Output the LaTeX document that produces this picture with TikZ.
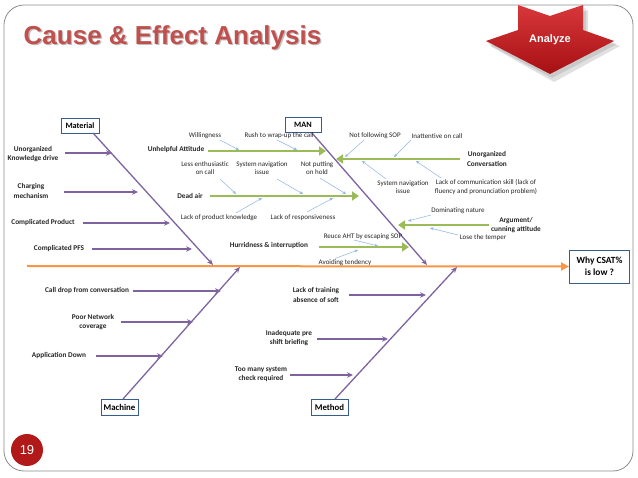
\documentclass[tikz,border=0pt]{standalone}
\usepackage{fontspec}
\setmainfont{Carlito}
\newfontfamily\arialf{Liberation Sans}
\usetikzlibrary{arrows.meta}
\definecolor{purp}{HTML}{7F63A1}
\definecolor{grn}{HTML}{9BBB59}
\definecolor{org}{HTML}{F79646}
\definecolor{lblue}{HTML}{8EB4E3}
\definecolor{boxb}{HTML}{385D8A}
\definecolor{ttl}{HTML}{C0504D}
\definecolor{darkred}{HTML}{B21A1A}
\definecolor{arrred}{HTML}{D01418}
\definecolor{framegray}{HTML}{8C8C8C}
\tikzset{
  lbl/.style={font=\fontsize{7}{8.6}\selectfont, align=center, inner sep=0pt, text=black!85},
  blbl/.style={font=\bfseries\fontsize{7.3}{9.3}\selectfont, align=center, inner sep=0pt, text=black!85},
  catbox/.style={draw=boxb, line width=0.9pt, fill=white, font=\bfseries\fontsize{8.2}{9}\selectfont, inner sep=1pt, minimum height=15pt},
  spine/.style={draw=purp, line width=1.3pt, -{Stealth[length=6pt,width=5pt]}},
  parr/.style={draw=purp, line width=1.5pt, -{Stealth[length=6pt,width=5.5pt]}},
  garr/.style={draw=grn, line width=2.6pt, -{Triangle[length=7pt,width=9pt]}},
  tarr/.style={draw=lblue, line width=0.5pt, -{Stealth[length=3.5pt,width=3pt]}},
}
\begin{document}
\begin{tikzpicture}[x=1pt,y=-1pt]
\useasboundingbox (0,0) rectangle (638,478);
\fill[white] (0,0) rectangle (638,478);
% frame
\draw[framegray, line width=0.8pt, rounded corners=20pt] (4,5) rectangle (633,471);

% title
\node[anchor=base west, inner sep=0pt, text=black!25, font=\arialf\bfseries\fontsize{26}{26}\selectfont] (ttlsh) at (24.8,45.8) {Cause \& Effect Analysis};
\node[anchor=base west, inner sep=0pt, text=ttl, font=\arialf\bfseries\fontsize{26}{26}\selectfont] (title) at (23.5,44.5) {Cause \& Effect Analysis};

% Analyze arrow
\fill[black, opacity=0.12] (522,10) -- (554,21) -- (588,10) -- (588,35) -- (620,46) -- (554,82) -- (490,46) -- (522,35) -- cycle;
\fill[black, opacity=0.10] (520,8) -- (552,19) -- (586,8) -- (586,33) -- (617,44) -- (552,78) -- (488,44) -- (520,33) -- cycle;
\shade[top color=arrred!85!white, bottom color=arrred!80!black] (518,5) -- (550,16) -- (583,5) -- (583,30) -- (614,41) -- (550,74) -- (486,41) -- (518,30) -- cycle;
\node[text=white, font=\arialf\bfseries\fontsize{11}{11}\selectfont, inner sep=0pt] (analyze) at (550,40) {Analyze};

% main spine
\node[catbox, minimum width=60pt, minimum height=33pt, align=center, font=\bfseries\fontsize{9.4}{12}\selectfont] (why) at (599.5,266.5) {Why CSAT\%\\is low ?};
\coordinate (spS) at (27,266);
\draw[draw=org, line width=2pt, -{Triangle[length=8pt,width=8pt]}] (spS) -- (why.west);

% category boxes
\node[catbox, minimum width=38pt] (mat) at (80,125.5) {Material};
\node[catbox, minimum width=36pt] (man) at (303,125) {MAN};
\node[catbox, minimum width=37pt, minimum height=16pt, font=\bfseries\fontsize{8.8}{9}\selectfont] (mach) at (119.5,407) {Machine};
\node[catbox, minimum width=37pt, minimum height=16pt, font=\bfseries\fontsize{8.8}{9}\selectfont] (meth) at (329.5,407) {Method};

% diagonal spines
\coordinate (matA) at (93,133);  \coordinate (matT) at (213,265);
\coordinate (manA) at (312,133); \coordinate (manT) at (427,265);
\coordinate (macA) at (123,399); \coordinate (macT) at (240,267);
\coordinate (metA) at (335,399); \coordinate (metT) at (457,267);
\draw[spine] (matA) -- (matT);
\draw[spine] (manA) -- (manT);
\draw[spine] (macA) -- (macT);
\draw[spine] (metA) -- (metT);

% ---- Material causes
\node[blbl] (m1) at (33,154) {Unorganized\\Knowledge drive};
\node[blbl] (m2) at (31,191) {Charging\\mechanism};
\node[blbl] (m3) at (43,223) {Complicated Product};
\node[blbl] (m4) at (59,249) {Complicated PFS};
\coordinate (m1a) at (65,153);  \coordinate (m1b) at (112,153);
\coordinate (m2a) at (64,192);  \coordinate (m2b) at (138,192);
\coordinate (m3a) at (83,223);  \coordinate (m3b) at (170,223);
\coordinate (m4a) at (92,249);  \coordinate (m4b) at (192,249);
\draw[parr] (m1a) -- (m1b);
\draw[parr] (m2a) -- (m2b);
\draw[parr] (m3a) -- (m3b);
\draw[parr] (m4a) -- (m4b);

% ---- MAN causes (left side)
\node[blbl] (ua) at (176,150) {Unhelpful Attitude};
\coordinate (uaa) at (208,151); \coordinate (uab) at (326,151);
\draw[garr] (uaa) -- (uab);
\node[lbl] (will) at (205,136) {Willingness};
\node[lbl] (rush) at (279,136) {Rush to wrap-up the call};
\coordinate (willa) at (220,140); \coordinate (willb) at (239,150);
\coordinate (rusha) at (277,140); \coordinate (rushb) at (297,150);
\draw[tarr] (willa) -- (willb);
\draw[tarr] (rusha) -- (rushb);

\node[blbl] (dead) at (190,196) {Dead air};
\coordinate (deada) at (210,196); \coordinate (deadb) at (359,196);
\draw[garr] (deada) -- (deadb);
\node[lbl] (less) at (205,168) {Less enthusiastic\\on call};
\node[lbl] (sys1) at (262,168) {System navigation\\issue};
\node[lbl] (notp) at (317,168) {Not putting\\on hold};
\node[lbl] (lpk) at (219,218) {Lack of product knowledge};
\node[lbl] (lres) at (303,218) {Lack of responsiveness};
\coordinate (lessa) at (220,179); \coordinate (lessb) at (236,194);
\coordinate (sys1a) at (277,179); \coordinate (sys1b) at (303,194);
\coordinate (notpa) at (320,178); \coordinate (notpb) at (346,194);
\coordinate (lpka) at (236,213);  \coordinate (lpkb) at (262,198);
\coordinate (lresa) at (307,212); \coordinate (lresb) at (333,198);
\draw[tarr] (lessa) -- (lessb);
\draw[tarr] (sys1a) -- (sys1b);
\draw[tarr] (notpa) -- (notpb);
\draw[tarr] (lpka) -- (lpkb);
\draw[tarr] (lresa) -- (lresb);

\node[blbl] (hur) at (269,246) {Hurridness \& interruption};
\coordinate (hura) at (319,247); \coordinate (hurb) at (409,247);
\draw[garr] (hura) -- (hurb);
\node[lbl] (reu) at (363,237) {Reuce AHT by escaping SOP};
\node[lbl] (avo) at (345,262.5) {Avoiding tendency};
\coordinate (reua) at (354,240); \coordinate (reub) at (378,246);
\coordinate (avoa) at (335,258.5); \coordinate (avob) at (358,250);
\draw[tarr] (reua) -- (reub);
\draw[tarr] (avoa) -- (avob);

% ---- MAN causes (right side)
\node[blbl] (uc) at (487,159) {Unorganized\\Conversation};
\coordinate (uca) at (460,159); \coordinate (ucb) at (336,159);
\draw[garr] (uca) -- (ucb);
\node[lbl] (nfs) at (375,136) {Not following SOP};
\node[lbl] (ina) at (437,136) {Inattentive on call};
\node[lbl] (sys2) at (403,187) {System navigation\\issue};
\node[lbl] (lcs) at (486,187) {Lack of communication skill (lack of\\fluency and pronunciation problem)};
\coordinate (nfsa) at (364,140); \coordinate (nfsb) at (345,157);
\coordinate (inaa) at (411,140); \coordinate (inab) at (394,157);
\coordinate (sys2a) at (386,179); \coordinate (sys2b) at (362,161);
\coordinate (lcsa) at (441,178); \coordinate (lcsb) at (416,161);
\draw[tarr] (nfsa) -- (nfsb);
\draw[tarr] (inaa) -- (inab);
\draw[tarr] (sys2a) -- (sys2b);
\draw[tarr] (lcsa) -- (lcsb);

\node[blbl] (arg) at (516,225) {Argument/\\cunning attitude};
\coordinate (arga) at (489,225); \coordinate (argb) at (398,225);
\draw[garr] (arga) -- (argb);
\node[lbl] (dom) at (458,211) {Dominating nature};
\node[lbl] (lose) at (483,238) {Lose the temper};
\coordinate (doma) at (431,215); \coordinate (domb) at (408,221);
\coordinate (losea) at (458,235); \coordinate (loseb) at (430,228);
\draw[tarr] (doma) -- (domb);
\draw[tarr] (losea) -- (loseb);

% ---- Machine causes
\node[blbl] (c1) at (87,291) {Call drop from conversation};
\node[blbl] (c2) at (93,322) {Poor Network\\coverage};
\node[blbl] (c3) at (59,356) {Application Down};
\coordinate (c1a) at (133,291); \coordinate (c1b) at (221,291);
\coordinate (c2a) at (121,322); \coordinate (c2b) at (193,322);
\coordinate (c3a) at (96,356);  \coordinate (c3b) at (163,356);
\draw[parr] (c1a) -- (c1b);
\draw[parr] (c2a) -- (c2b);
\draw[parr] (c3a) -- (c3b);

% ---- Method causes
\node[blbl] (t1) at (316,295) {Lack of training\\absence of soft};
\node[blbl] (t2) at (289,338) {Inadequate pre\\shift briefing};
\node[blbl] (t3) at (261,374) {Too many system\\check required};
\coordinate (t1a) at (349,295); \coordinate (t1b) at (426,295);
\coordinate (t2a) at (317,339); \coordinate (t2b) at (388,339);
\coordinate (t3a) at (290,375); \coordinate (t3b) at (353,375);
\draw[parr] (t1a) -- (t1b);
\draw[parr] (t2a) -- (t2b);
\draw[parr] (t3a) -- (t3b);

% slide number
\node[circle, fill=darkred, minimum size=32pt, inner sep=0pt, text=white, font=\arialf\fontsize{13}{13}\selectfont] (num) at (27,450) {19};
\end{tikzpicture}
\end{document}
